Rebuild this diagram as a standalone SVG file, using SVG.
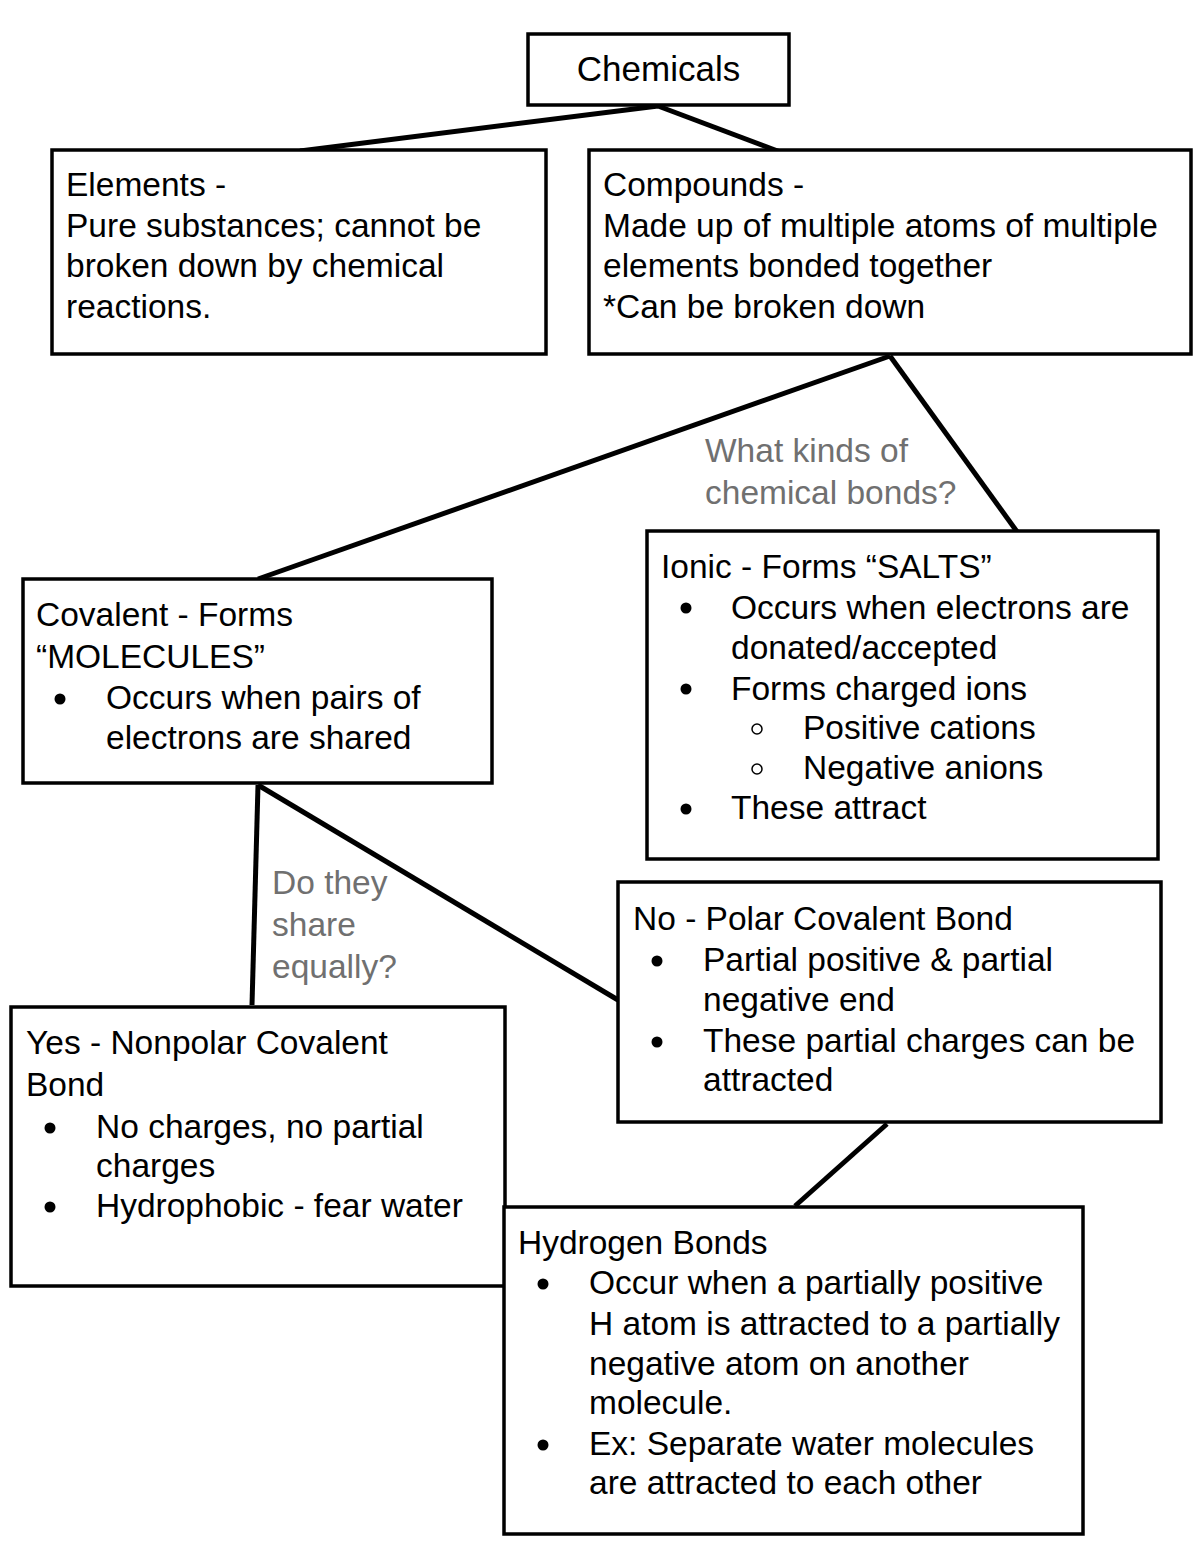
<svg xmlns="http://www.w3.org/2000/svg" width="1200" height="1553" viewBox="0 0 1200 1553">
<style>
.box{fill:#fff;stroke:#000;stroke-width:3.5}
.t{font-family:"Liberation Sans",Arial,sans-serif;font-size:33.5px;fill:#000}
.q{font-family:"Liberation Sans",Arial,sans-serif;font-size:33.5px;fill:#707070}
.b{fill:#000}
.o{fill:none;stroke:#000;stroke-width:1.5}
.c{stroke:#000;stroke-width:5;fill:none;stroke-linecap:butt}
</style>
<rect width="1200" height="1553" fill="#fff"/>
<g id="connectors">
<line class="c" x1="658" y1="106" x2="300" y2="151"/>
<line class="c" x1="658" y1="106" x2="783" y2="153"/>
<line class="c" x1="890" y1="356" x2="258" y2="579"/>
<line class="c" x1="890" y1="356" x2="1018" y2="533"/>
<line class="c" x1="258" y1="785" x2="252" y2="1005"/>
<line class="c" x1="258" y1="785" x2="618" y2="1000"/>
<line class="c" x1="887" y1="1124" x2="795" y2="1206"/>
</g>
<g id="label-bonds">
<text class="q" x="705" y="462">What kinds of</text>
<text class="q" x="705" y="504">chemical bonds?</text>
</g>
<g id="label-share">
<text class="q" x="272" y="894">Do they</text>
<text class="q" x="272" y="936">share</text>
<text class="q" x="272" y="978">equally?</text>
</g>
<g id="chemicals">
<rect class="box" x="528" y="34" width="261" height="71"/>
<text class="t" x="658.5" y="81" text-anchor="middle" style="font-size:35px">Chemicals</text>
</g>
<g id="elements">
<rect class="box" x="52" y="150" width="494" height="204"/>
<text class="t" x="66" y="196">Elements -</text>
<text class="t" x="66" y="237">Pure substances; cannot be</text>
<text class="t" x="66" y="277">broken down by chemical</text>
<text class="t" x="66" y="318">reactions.</text>
</g>
<g id="compounds">
<rect class="box" x="589" y="150" width="602" height="204"/>
<text class="t" x="603" y="196">Compounds -</text>
<text class="t" x="603" y="237">Made up of multiple atoms of multiple</text>
<text class="t" x="603" y="277">elements bonded together</text>
<text class="t" x="603" y="318">*Can be broken down</text>
</g>
<g id="ionic">
<rect class="box" x="647" y="531" width="511" height="328"/>
<text class="t" x="661" y="578">Ionic - Forms “SALTS”</text>
<circle class="b" cx="686" cy="608" r="5.5"/>
<text class="t" x="731" y="619">Occurs when electrons are</text>
<text class="t" x="731" y="659">donated/accepted</text>
<circle class="b" cx="686" cy="689" r="5.5"/>
<text class="t" x="731" y="700">Forms charged ions</text>
<circle class="o" cx="757" cy="729" r="5"/>
<text class="t" x="803" y="739">Positive cations</text>
<circle class="o" cx="757" cy="769" r="5"/>
<text class="t" x="803" y="779">Negative anions</text>
<circle class="b" cx="686" cy="809" r="5.5"/>
<text class="t" x="731" y="819">These attract</text>
</g>
<g id="covalent">
<rect class="box" x="23" y="579" width="469" height="204"/>
<text class="t" x="36" y="626">Covalent - Forms</text>
<text class="t" x="36" y="668">“MOLECULES”</text>
<circle class="b" cx="60" cy="699" r="5.5"/>
<text class="t" x="106" y="709">Occurs when pairs of</text>
<text class="t" x="106" y="749">electrons are shared</text>
</g>
<g id="polar">
<rect class="box" x="618" y="882" width="543" height="240"/>
<text class="t" x="633" y="930">No - Polar Covalent Bond</text>
<circle class="b" cx="657" cy="961" r="5.5"/>
<text class="t" x="703" y="971">Partial positive &amp; partial</text>
<text class="t" x="703" y="1011">negative end</text>
<circle class="b" cx="657" cy="1042" r="5.5"/>
<text class="t" x="703" y="1052">These partial charges can be</text>
<text class="t" x="703" y="1091">attracted</text>
</g>
<g id="nonpolar">
<rect class="box" x="11" y="1007" width="494" height="279"/>
<text class="t" x="26" y="1054">Yes - Nonpolar Covalent</text>
<text class="t" x="26" y="1096">Bond</text>
<circle class="b" cx="50" cy="1128" r="5.5"/>
<text class="t" x="96" y="1138">No charges, no partial</text>
<text class="t" x="96" y="1177">charges</text>
<circle class="b" cx="50" cy="1207" r="5.5"/>
<text class="t" x="96" y="1217">Hydrophobic - fear water</text>
</g>
<g id="hydrogen">
<rect class="box" x="504" y="1207" width="579" height="327"/>
<text class="t" x="518" y="1254">Hydrogen Bonds</text>
<circle class="b" cx="543" cy="1284" r="5.5"/>
<text class="t" x="589" y="1294">Occur when a partially positive</text>
<text class="t" x="589" y="1335">H atom is attracted to a partially</text>
<text class="t" x="589" y="1375">negative atom on another</text>
<text class="t" x="589" y="1414">molecule.</text>
<circle class="b" cx="543" cy="1445" r="5.5"/>
<text class="t" x="589" y="1455">Ex: Separate water molecules</text>
<text class="t" x="589" y="1494">are attracted to each other</text>
</g>
</svg>
